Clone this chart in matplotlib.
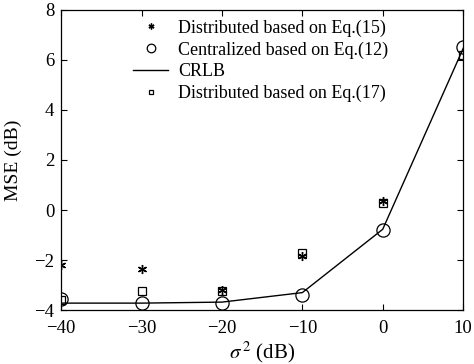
from matplotlib import pyplot as plt
import numpy as np

sigma2_db = [-40, -30, -20, -10, 0, 10]
mse_dist_eq15 = [-2.2, -2.35, -3.2, -1.85, 0.35, 6.55]
mse_central_eq12 = [-3.55, -3.72, -3.72, -3.4, -0.78, 6.5]
mse_crlb = [-3.72, -3.72, -3.68, -3.3, -0.77, 6.45]
mse_dist_eq17 = [-3.6, -3.25, -3.22, -1.7, 0.27, 6.2]

plt.rcParams['font.family'] = ['Liberation Serif', 'DejaVu Serif']
plt.rcParams['mathtext.fontset'] = 'stix'

fig = plt.figure(figsize=(4.74, 3.64), dpi=100)
ax = fig.add_axes([0.129, 0.148, 0.848, 0.825])

ax.plot(sigma2_db, mse_dist_eq15, linestyle='none', marker=(6, 2, 0), markersize=6.5,
        color='black', markeredgewidth=1.0, label='Distributed based on Eq.(15)')
ax.plot(sigma2_db, mse_central_eq12, linestyle='none', marker='o', markersize=9.5,
        markerfacecolor='white', markeredgecolor='black', markeredgewidth=0.9,
        label='Centralized based on Eq.(12)')
ax.plot(sigma2_db, mse_crlb, '-', color='black', linewidth=1.0, label='CRLB')
ax.plot(sigma2_db, mse_dist_eq17, linestyle='none', marker='s', markersize=5.5,
        markerfacecolor='none', markeredgecolor='black', markeredgewidth=0.9,
        label='Distributed based on Eq.(17)')

ax.set_xlim(-40, 10)
ax.set_ylim(-4, 8)
ax.set_xticks(np.arange(-40, 11, 10))
ax.set_yticks(np.arange(-4, 9, 2))
ax.set_xticklabels(['\u221240', '\u221230', '\u221220', '\u221210', '0', '10'])
ax.set_yticklabels(['\u22124', '\u22122', '0', '2', '4', '6', '8'])
ax.tick_params(direction='in', top=True, right=True, labelsize=13.5, length=4)
ax.tick_params(axis='x', pad=7)
ax.tick_params(axis='y', pad=5)
for s in ax.spines.values():
    s.set_linewidth(0.9)

ax.set_xlabel(r'$\sigma^{\,2}$ (dB)', fontsize=15, labelpad=2)
ax.set_ylabel('MSE (dB)', fontsize=14, labelpad=9)

leg = ax.legend(loc='upper left', bbox_to_anchor=(0.179, 0.968), frameon=False,
                fontsize=13, handlelength=1.95, handletextpad=0.55,
                labelspacing=0.26, borderpad=0, borderaxespad=0, markerscale=0.65)

fig.savefig('out.png', dpi=100)
